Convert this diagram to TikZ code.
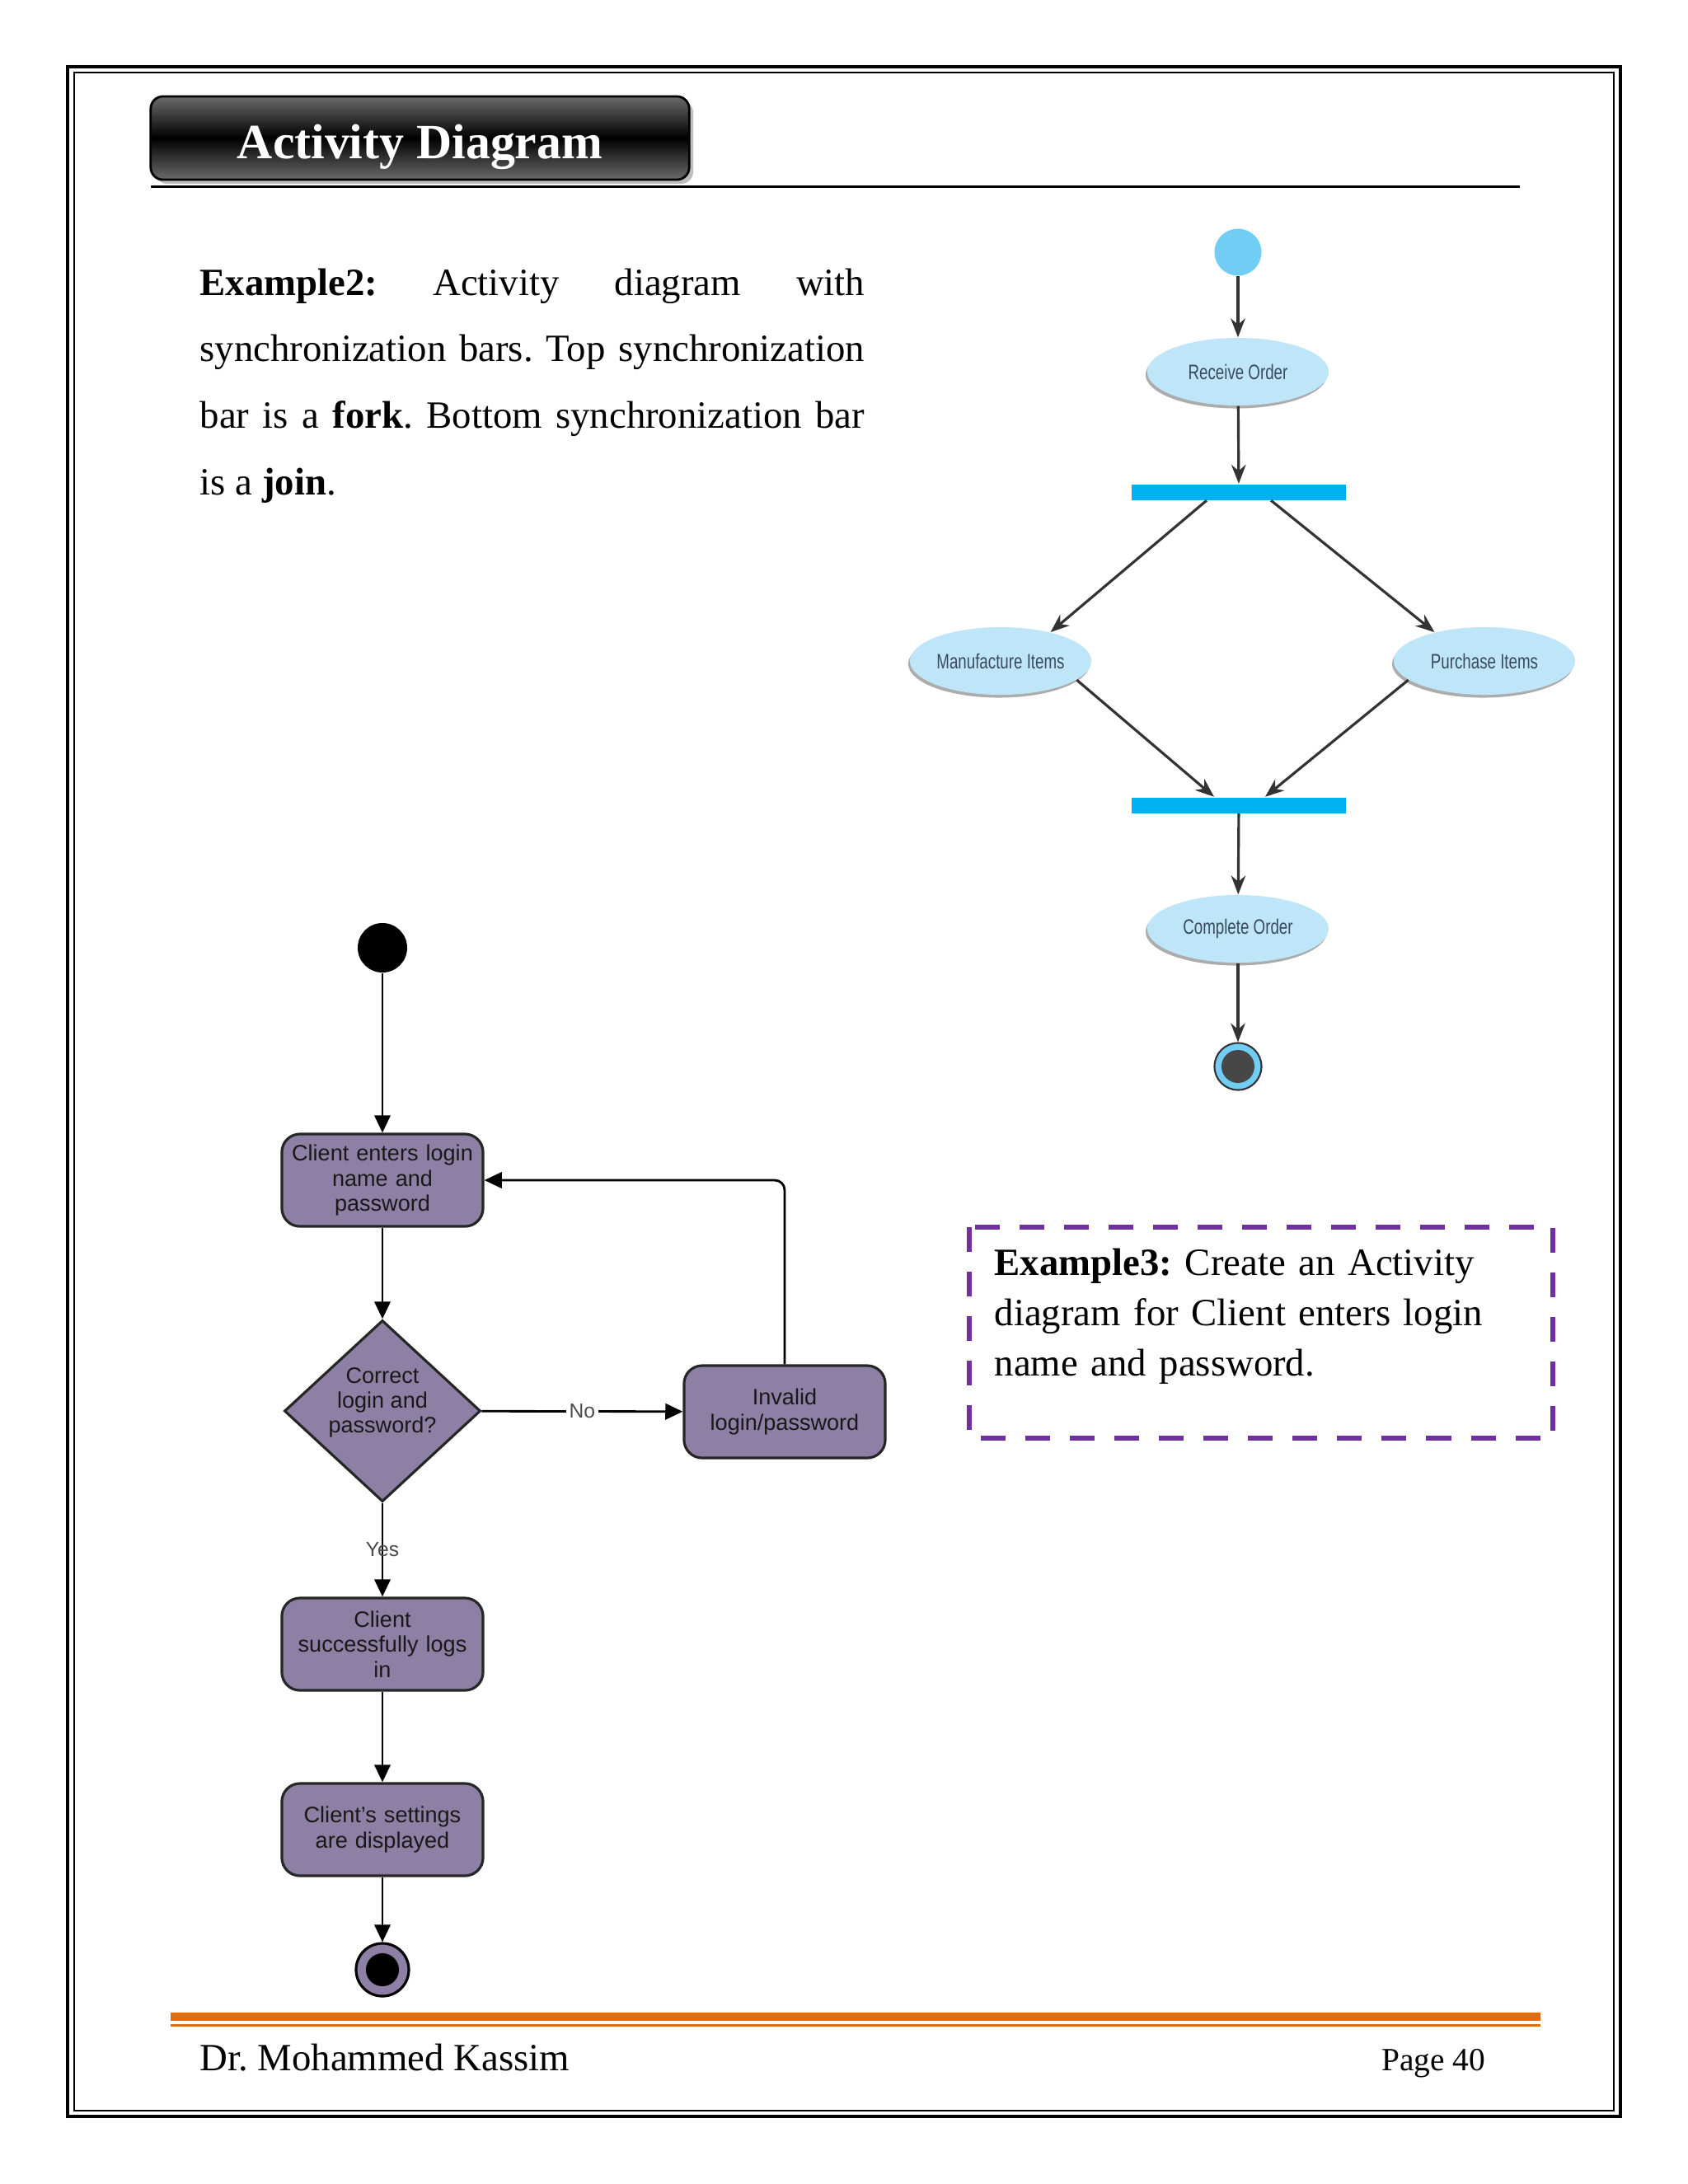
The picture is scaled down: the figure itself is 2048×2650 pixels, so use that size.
\documentclass[tikz,border=0pt]{standalone}
\usepackage{fontspec}
\setmainfont{Liberation Serif}
\setsansfont{Liberation Sans}
\newfontfamily\narrowsans[FakeStretch=0.74]{Liberation Sans}
\usetikzlibrary{shapes.geometric,arrows.meta,shadows}
\frenchspacing

\definecolor{barblue}{HTML}{00B0F0}
\definecolor{actblue}{HTML}{BFE6F8}
\definecolor{dotblue}{HTML}{72CDF4}
\definecolor{bluetext}{HTML}{3A4A5E}
\definecolor{inkgray}{HTML}{333333}
\definecolor{actpurple}{HTML}{8D80A4}
\definecolor{boxviolet}{HTML}{7030A0}
\definecolor{footorange}{HTML}{E36C0A}

\begin{document}
\begin{tikzpicture}[x=0.01cm,y=-0.01cm,
	blueact/.style={ellipse, fill=actblue, text=bluetext, inner sep=0pt,
		font=\narrowsans\fontsize{7.2}{8}\selectfont,
		minimum width=2.2cm, minimum height=0.82cm,
		drop shadow={shadow xshift=-0.02cm, shadow yshift=-0.035cm, fill=black!50, opacity=0.65}},
	syncbar/.style={rectangle, fill=barblue, minimum width=2.6cm, minimum height=0.19cm, inner sep=0pt},
	bluearrow/.style={draw=inkgray, line width=0.9pt, -{Stealth[length=6.5pt,width=5pt]}},
	purpact/.style={rectangle, rounded corners=0.22cm, draw=black!85, line width=0.9pt,
		fill=actpurple, text=black!90, font=\sffamily\fontsize{7.7}{8.6}\selectfont,
		minimum width=2.44cm, minimum height=1.12cm, text width=2.3cm, align=center, inner sep=0pt},
	purpdec/.style={diamond, draw=black!85, line width=0.9pt, fill=actpurple,
		inner sep=0pt, minimum width=2.38cm, minimum height=2.2cm},
	purptext/.style={text=black!90, font=\sffamily\fontsize{7.7}{8.6}\selectfont, align=center, inner sep=0pt},
	purparrow/.style={draw=black, line width=0.8pt, -{Triangle[length=6pt,width=5.5pt]}},
	guard/.style={font=\sffamily\fontsize{7}{8}\selectfont, text=black!70, inner sep=1pt}
	]
	% page
	\fill [white] (0,0) rectangle (2048,2650);
	\useasboundingbox (0,0) rectangle (2048,2650);
	\draw [line width=1.4pt] (82,81) rectangle (1966,2568);
	\draw [line width=0.6pt] (90,88) rectangle (1958,2561);
	
	% title bar
	\node [draw=black, line width=0.8pt, rounded corners=0.15cm,
		top color=black!58, bottom color=black!58, middle color=black,
		minimum width=6.53cm, minimum height=1.01cm,
		drop shadow={shadow xshift=0.05cm, shadow yshift=-0.05cm, fill=black!50}]
		(title) at (509.5,167.5) {};
	\node [anchor=base, inner sep=0pt, text=white, font=\bfseries\fontsize{17}{20}\selectfont]
		(titletext) at (509.5,192) {Activity Diagram};
	\draw [line width=0.85pt] (183,226) -- (1844,226);
	
	% example 2 text
	\node [anchor=base west, inner sep=0pt, text width=8.06cm, align=justify,
		font=\fontsize{13.3}{23}\selectfont] (extwo) at (242,358)
		{\textbf{Example2:} Activity diagram with\linebreak
		synchronization bars. Top synchronization\linebreak
		bar is a \textbf{fork}. Bottom synchronization bar\linebreak
		is a \textbf{join}.};
	
	% fork and join diagram
	\node [circle, fill=dotblue, minimum size=0.57cm, inner sep=0pt] (startb) at (1502,306) {};
	\node [blueact] (recv) at (1502,451) {Receive Order};
	\node [syncbar] (fork) at (1503,597) {};
	\node [blueact] (manu) at (1214,802) {Manufacture Items};
	\node [blueact] (purc) at (1801,802) {Purchase Items};
	\node [syncbar] (join) at (1503,977) {};
	\node [blueact] (comp) at (1502,1127) {Complete Order};
	\node [circle, draw=inkgray, line width=0.6pt, fill=dotblue, minimum size=0.57cm, inner sep=0pt] (endb) at (1502,1294) {};
	\node [circle, fill=inkgray!90, minimum size=0.4cm, inner sep=0pt] (endbdot) at (endb) {};
	
	\draw [bluearrow] (startb) -- (recv);
	\draw [bluearrow] (recv) -- (fork);
	\draw [bluearrow] ([xshift=-0.39cm]fork.south) -- (manu.30);
	\draw [bluearrow] ([xshift=0.39cm]fork.south) -- (purc.150);
	\draw [bluearrow] (manu.-14) -- ([xshift=-0.30cm]join.north);
	\draw [bluearrow] (purc.194) -- ([xshift=0.32cm]join.north);
	\draw [bluearrow] (join) -- (comp);
	\draw [bluearrow] (comp) -- (endb);
	
	% login diagram
	\node [circle, fill=black, minimum size=0.6cm, inner sep=0pt] (startp) at (464,1150) {};
	\node [purpact] (enter) at (464,1432) {Client enters login\\name and\\password};
	\node [purpdec] (check) at (464,1712) {};
	\node [purptext] (checktext) at (464,1702) {Correct\\login and\\password?};
	\node [purpact] (invalid) at (952,1713) {Invalid\\login/password};
	\node [purpact] (success) at (464,1995) {Client\\successfully logs\\in};
	\node [purpact] (shown) at (464,2220) {Client's settings\\are displayed};
	\node [circle, draw=black, line width=0.9pt, fill=actpurple, minimum size=0.64cm, inner sep=0pt] (endp) at (464,2390) {};
	\node [circle, fill=black, minimum size=0.4cm, inner sep=0pt] (endpdot) at (endp) {};
	
	\draw [purparrow] (startp) -- (enter);
	\draw [purparrow] (enter) -- (check);
	\draw [purparrow] (check) -- node [guard, fill=white] {No} (invalid);
	\draw [purparrow, rounded corners=0.12cm] (invalid.north) |- (enter.east);
	\draw [purparrow] (check) -- node [guard] {Yes} (success);
	\draw [purparrow] (success) -- (shown);
	\draw [purparrow] (shown) -- (endp);
	
	% example 3 box
	\draw [boxviolet, line width=1.8pt, dash pattern=on 0.3cm off 0.24cm] (1176,1489) rectangle (1884,1745);
	\node [anchor=base west, inner sep=0pt, text width=6.6cm, align=left,
		font=\fontsize{13.3}{17.4}\selectfont] (exthree) at (1206,1547)
		{\textbf{Example3:} Create an Activity\\diagram for Client enters login\\name and password.};
	
	% footer
	\draw [footorange, line width=2.6pt] (207,2447) -- (1869,2447);
	\draw [footorange, line width=0.85pt] (207,2457.5) -- (1869,2457.5);
	\node [anchor=base west, inner sep=0pt, font=\fontsize{13.3}{16}\selectfont] (author) at (242,2512) {Dr. Mohammed Kassim};
	\node [anchor=base east, inner sep=0pt, font=\fontsize{11.2}{14}\selectfont] (pageno) at (1803,2512) {Page 40};
\end{tikzpicture}
\end{document}
